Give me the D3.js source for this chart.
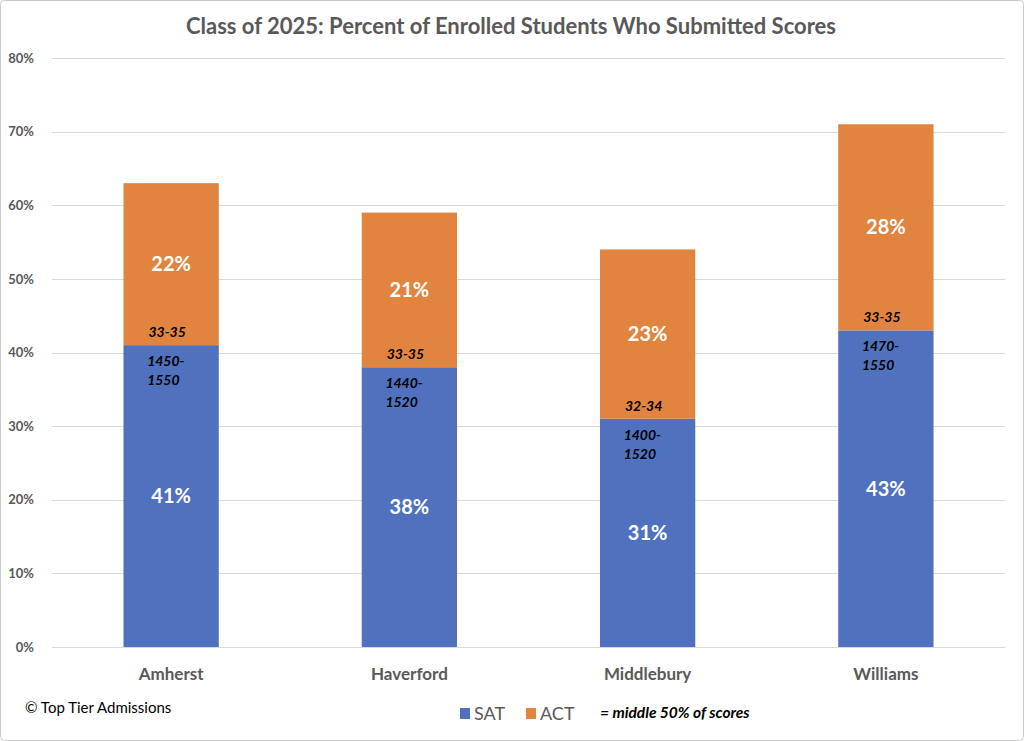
<!DOCTYPE html>
<html>
<head>
<meta charset="utf-8">
<script src="https://cdn.jsdelivr.net/npm/d3@7"></script>
<style>
  body { margin: 0; background: #fff; }
  svg { display: block; font-family: Lato, "Open Sans", sans-serif; }
</style>
</head>
<body>
<div id="chart"></div>
<script>
// Chart data
const colleges = ["Amherst", "Haverford", "Middlebury", "Williams"];
const satPct = [41, 38, 31, 43];
const actPct = [22, 21, 23, 28];
const satRanges = [["1450-", "1550"], ["1440-", "1520"], ["1400-", "1520"], ["1470-", "1550"]];
const actRanges = ["33-35", "33-35", "32-34", "33-35"];
const yTicks = [0, 10, 20, 30, 40, 50, 60, 70, 80];
const seriesNames = ["SAT", "ACT"];

const width = 1024;
const height = 741;
const margin = { top: 58, right: 19, bottom: 94, left: 52 };
const colors = { SAT: "#4F71BE", ACT: "#E0843F" };
const axisGray = "#595959";

const rows = colleges.map((c, i) => ({ college: c, SAT: satPct[i], ACT: actPct[i] }));
const stacked = d3.stack().keys(seriesNames)(rows);

const svg = d3.select("#chart")
  .append("svg")
  .attr("width", width)
  .attr("height", height);

// outer frame
svg.append("rect")
  .attr("x", 0.5).attr("y", 0.5)
  .attr("width", width - 1).attr("height", height - 1)
  .attr("rx", 4)
  .attr("fill", "#fff")
  .attr("stroke", "#c8c8c8");

const x = d3.scaleBand()
  .domain(colleges)
  .range([margin.left, width - margin.right])
  .paddingInner(0.6)
  .paddingOuter(0.3);

const y = d3.scaleLinear()
  .domain([0, 80])
  .range([height - margin.bottom, margin.top]);

// title
svg.append("text")
  .attr("x", 511)
  .attr("y", 34)
  .attr("text-anchor", "middle")
  .attr("font-size", 22)
  .attr("font-weight", "bold")
  .attr("fill", axisGray)
  .text("Class of 2025: Percent of Enrolled Students Who Submitted Scores");

// gridlines
svg.append("g")
  .selectAll("line")
  .data(yTicks)
  .join("line")
  .attr("x1", margin.left)
  .attr("x2", width - margin.right)
  .attr("y1", (d) => Math.round(y(d)) + 0.5)
  .attr("y2", (d) => Math.round(y(d)) + 0.5)
  .attr("stroke", "#d9d9d9");

// y axis labels
const yAxis = svg.append("g")
  .attr("transform", `translate(${margin.left - 15},0)`)
  .call(d3.axisLeft(y).tickValues(yTicks).tickFormat((d) => d + "%").tickSize(0));
yAxis.select(".domain").remove();
yAxis.selectAll("text")
  .attr("font-family", "Lato, sans-serif")
  .attr("font-size", 13)
  .attr("font-weight", "bold")
  .attr("fill", axisGray);

// x axis labels
const xAxis = svg.append("g")
  .attr("transform", `translate(0,${height - margin.bottom})`)
  .call(d3.axisBottom(x).tickSize(0).tickPadding(21));
xAxis.select(".domain").remove();
xAxis.selectAll("text")
  .attr("font-family", "Lato, sans-serif")
  .attr("font-size", 17)
  .attr("font-weight", "bold")
  .attr("fill", axisGray);

// bars
const layers = svg.append("g")
  .selectAll("g")
  .data(stacked)
  .join("g")
  .attr("fill", (d) => colors[d.key]);

layers.selectAll("rect")
  .data((d) => d)
  .join("rect")
  .attr("x", (d) => x(d.data.college))
  .attr("y", (d) => y(d[1]))
  .attr("width", x.bandwidth())
  .attr("height", (d) => y(d[0]) - y(d[1]));

// percent labels inside segments
layers.selectAll("text")
  .data((d) => d.map((v) => ({ key: d.key, v })))
  .join("text")
  .attr("x", (d) => x(d.v.data.college) + x.bandwidth() / 2)
  .attr("y", (d) => y((d.v[0] + d.v[1]) / 2) + 7)
  .attr("text-anchor", "middle")
  .attr("font-size", 20)
  .attr("font-weight", "bold")
  .attr("fill", "#fff")
  .text((d) => d.v.data[d.key] + "%");

// score range annotations
const notes = svg.append("g")
  .attr("font-size", 14)
  .attr("font-weight", "bold")
  .attr("font-style", "italic")
  .attr("fill", "#000");

notes.selectAll("text.act")
  .data(colleges)
  .join("text")
  .attr("class", "act")
  .attr("x", (d) => x(d) + x.bandwidth() / 2 - 4)
  .attr("y", (d, i) => y(satPct[i]) - 8)
  .attr("text-anchor", "middle")
  .text((d, i) => actRanges[i]);

notes.selectAll("text.sat")
  .data(colleges)
  .join("text")
  .attr("class", "sat")
  .attr("x", (d) => x(d) + x.bandwidth() / 2 - 24)
  .attr("y", (d, i) => y(satPct[i]) + 21)
  .selectAll("tspan")
  .data((d, i) => satRanges[i])
  .join("tspan")
  .attr("x", function () { return this.parentNode.getAttribute("x"); })
  .attr("dy", (d, j) => (j === 0 ? 0 : 19))
  .text((d) => d);

// legend
const legend = svg.append("g").attr("transform", "translate(460,708)");
const legendItems = legend.selectAll("g")
  .data(seriesNames)
  .join("g")
  .attr("transform", (d, i) => `translate(${i * 66},0)`);
legendItems.append("rect")
  .attr("width", 10)
  .attr("height", 11)
  .attr("fill", (d) => colors[d]);
legendItems.append("text")
  .attr("x", 14)
  .attr("y", 12)
  .attr("font-size", 18)
  .attr("fill", axisGray)
  .text((d) => d);

svg.append("text")
  .attr("x", 600)
  .attr("y", 718)
  .attr("font-size", 15.5)
  .attr("font-weight", "bold")
  .attr("font-style", "italic")
  .attr("fill", "#000")
  .text("= middle 50% of scores");

svg.append("text")
  .attr("x", 25)
  .attr("y", 713)
  .attr("font-size", 15)
  .attr("fill", "#000")
  .text("© Top Tier Admissions");
</script>
</body>
</html>
